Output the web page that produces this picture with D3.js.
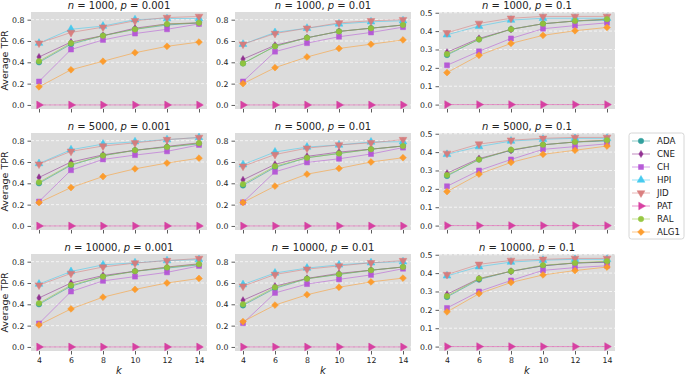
<!DOCTYPE html>
<html>
<head>
<meta charset="utf-8">
<script src="https://cdn.jsdelivr.net/npm/d3@7"></script>
<style>
  body { margin: 0; background: #fff; }
  text { font-family: "DejaVu Sans", sans-serif; fill: #222; }
</style>
</head>
<body>
<div id="vis"></div>
<script>
// data
const kValues = [4, 6, 8, 10, 12, 14];
const methods = ["ADA", "CNE", "CH", "HPI", "JID", "PAT", "RAL", "ALG1"];
const nValues = [1000, 5000, 10000];
const pValues = ["0.001", "0.01", "0.1"];

// TPR per panel (row = n, col = p), series in order of methods
const tpr_1000_0001 = [
  [0.40, 0.57, 0.65, 0.71, 0.75, 0.77],
  [0.45, 0.59, 0.65, 0.72, 0.76, 0.77],
  [0.22, 0.52, 0.61, 0.67, 0.71, 0.76],
  [0.58, 0.71, 0.74, 0.80, 0.81, 0.81],
  [0.58, 0.68, 0.73, 0.79, 0.82, 0.83],
  [0, 0, 0, 0, 0, 0],
  [0.41, 0.58, 0.65, 0.71, 0.76, 0.77],
  [0.17, 0.33, 0.41, 0.49, 0.55, 0.59]
];
const tpr_1000_001 = [
  [0.39, 0.55, 0.63, 0.69, 0.72, 0.75],
  [0.43, 0.56, 0.63, 0.69, 0.72, 0.75],
  [0.22, 0.50, 0.58, 0.64, 0.68, 0.73],
  [0.57, 0.68, 0.72, 0.76, 0.78, 0.79],
  [0.57, 0.67, 0.72, 0.77, 0.79, 0.80],
  [0, 0, 0, 0, 0, 0],
  [0.39, 0.55, 0.63, 0.69, 0.72, 0.75],
  [0.20, 0.35, 0.45, 0.53, 0.57, 0.61]
];
const tpr_1000_01 = [
  [0.27, 0.355, 0.41, 0.44, 0.455, 0.46],
  [0.285, 0.36, 0.41, 0.44, 0.455, 0.465],
  [0.214, 0.29, 0.36, 0.413, 0.43, 0.445],
  [0.38, 0.427, 0.46, 0.47, 0.47, 0.47],
  [0.391, 0.442, 0.47, 0.48, 0.48, 0.48],
  [0, 0, 0, 0, 0, 0],
  [0.275, 0.355, 0.41, 0.44, 0.455, 0.465],
  [0.174, 0.268, 0.333, 0.377, 0.402, 0.42]
];
const tpr_5000_0001 = [
  [0.40, 0.57, 0.66, 0.71, 0.74, 0.77],
  [0.455, 0.60, 0.667, 0.71, 0.746, 0.78],
  [0.229, 0.523, 0.624, 0.665, 0.70, 0.76],
  [0.586, 0.715, 0.768, 0.79, 0.81, 0.83],
  [0.58, 0.70, 0.75, 0.78, 0.81, 0.83],
  [0, 0, 0, 0, 0, 0],
  [0.41, 0.577, 0.66, 0.71, 0.74, 0.777],
  [0.219, 0.36, 0.464, 0.536, 0.59, 0.636]
];
const tpr_5000_001 = [
  [0.38, 0.55, 0.64, 0.68, 0.72, 0.75],
  [0.432, 0.578, 0.653, 0.693, 0.72, 0.75],
  [0.222, 0.508, 0.596, 0.63, 0.675, 0.735],
  [0.575, 0.694, 0.74, 0.76, 0.788, 0.79],
  [0.56, 0.67, 0.73, 0.76, 0.78, 0.81],
  [0, 0, 0, 0, 0, 0],
  [0.392, 0.56, 0.64, 0.68, 0.72, 0.75],
  [0.22, 0.374, 0.486, 0.54, 0.60, 0.64]
];
const tpr_5000_01 = [
  [0.27, 0.36, 0.41, 0.44, 0.455, 0.46],
  [0.285, 0.365, 0.41, 0.44, 0.455, 0.465],
  [0.214, 0.30, 0.36, 0.415, 0.43, 0.445],
  [0.388, 0.43, 0.46, 0.47, 0.475, 0.475],
  [0.393, 0.444, 0.465, 0.475, 0.48, 0.48],
  [0, 0, 0, 0, 0, 0],
  [0.275, 0.36, 0.413, 0.44, 0.455, 0.465],
  [0.185, 0.28, 0.344, 0.388, 0.41, 0.433]
];
const tpr_10000_0001 = [
  [0.40, 0.57, 0.66, 0.71, 0.74, 0.77],
  [0.46, 0.60, 0.67, 0.71, 0.75, 0.78],
  [0.22, 0.52, 0.62, 0.66, 0.70, 0.76],
  [0.59, 0.708, 0.77, 0.79, 0.81, 0.82],
  [0.58, 0.69, 0.75, 0.787, 0.81, 0.83],
  [0, 0, 0, 0, 0, 0],
  [0.41, 0.58, 0.66, 0.71, 0.746, 0.777],
  [0.207, 0.357, 0.467, 0.54, 0.60, 0.643]
];
const tpr_10000_001 = [
  [0.39, 0.55, 0.64, 0.68, 0.72, 0.75],
  [0.438, 0.57, 0.643, 0.69, 0.72, 0.75],
  [0.223, 0.507, 0.59, 0.634, 0.676, 0.734],
  [0.585, 0.694, 0.74, 0.77, 0.79, 0.80],
  [0.57, 0.68, 0.73, 0.76, 0.79, 0.81],
  [0, 0, 0, 0, 0, 0],
  [0.40, 0.56, 0.64, 0.683, 0.72, 0.75],
  [0.238, 0.393, 0.49, 0.56, 0.61, 0.646]
];
const tpr_10000_01 = [
  [0.27, 0.365, 0.41, 0.44, 0.455, 0.46],
  [0.285, 0.37, 0.41, 0.44, 0.455, 0.46],
  [0.21, 0.30, 0.36, 0.415, 0.43, 0.44],
  [0.385, 0.435, 0.46, 0.47, 0.475, 0.475],
  [0.392, 0.448, 0.469, 0.475, 0.48, 0.48],
  [0, 0, 0, 0, 0, 0],
  [0.275, 0.37, 0.41, 0.443, 0.455, 0.465],
  [0.189, 0.288, 0.349, 0.39, 0.414, 0.433]
];

const panels = [
  [tpr_1000_0001, tpr_1000_001, tpr_1000_01],
  [tpr_5000_0001, tpr_5000_001, tpr_5000_01],
  [tpr_10000_0001, tpr_10000_001, tpr_10000_01]
];

const colors = ["#2a9d9a", "#8e2a8e", "#b455d6", "#3fc9ef", "#d97b7b", "#d63a9f", "#93c63a", "#fd9a28"];
const shapes = ["circle", "thin", "square", "tri", "tridown", "triright", "circle", "diamond"];

// layout
const W = 685, H = 377;
const colLeft = [31, 235, 439];
const rowTop = [12, 133, 254];
const pw = 176, ph = 97;

const svg = d3.select("#vis").append("svg")
  .attr("width", W)
  .attr("height", H);

// matplotlib-like markers; diamonds are rotated squares
function marker(g, shape, color, x, y) {
  let sym, size = 26, rot = 0, sx = 1;
  if (shape === "circle") { sym = d3.symbolCircle; size = 24; }
  else if (shape === "square") { sym = d3.symbolSquare; size = 25; }
  else if (shape === "tri") { sym = d3.symbolTriangle; size = 26; }
  else if (shape === "tridown") { sym = d3.symbolTriangle; size = 26; rot = 180; }
  else if (shape === "triright") { sym = d3.symbolTriangle; size = 26; rot = 90; }
  else if (shape === "thin") { sym = d3.symbolSquare; size = 26; rot = 45; sx = 0.6; }
  else { sym = d3.symbolSquare; size = 23; rot = 45; }
  const tr = shape === "thin" || shape === "diamond"
    ? `translate(${x},${y}) scale(${sx},1) rotate(${rot})`
    : `translate(${x},${y}) rotate(${rot})`;
  g.append("path")
    .attr("d", d3.symbol().type(sym).size(size)())
    .attr("transform", tr)
    .attr("fill", color)
    .attr("stroke", color)
    .attr("stroke-width", 0.5)
    .attr("opacity", 0.95);
}

panels.forEach((row, ri) => {
  row.forEach((series, ci) => {
    const g = svg.append("g")
      .attr("transform", `translate(${colLeft[ci]}, ${rowTop[ri]})`);

    const x = d3.scaleLinear().domain([3.5, 14.5]).range([0, pw]);
    const isP01 = ci === 2;
    const y = d3.scaleLinear()
      .domain(isP01 ? [-0.024, 0.504] : [-0.038, 0.872])
      .range([ph, 0]);
    const yTicks = isP01 ? [0, 0.1, 0.2, 0.3, 0.4, 0.5] : [0, 0.2, 0.4, 0.6, 0.8];

    g.append("rect")
      .attr("width", pw)
      .attr("height", ph)
      .attr("fill", "#dcdcdc");

    // grid
    g.selectAll(".grid")
      .data(yTicks)
      .enter()
      .append("line")
      .attr("x1", 0)
      .attr("x2", pw)
      .attr("y1", d => y(d))
      .attr("y2", d => y(d))
      .attr("stroke", "#fff")
      .attr("stroke-width", 0.7)
      .attr("stroke-dasharray", "3,2");

    // axes
    const yAxis = g.append("g")
      .call(d3.axisLeft(y).tickValues(yTicks).tickFormat(d3.format(".1f")).tickSize(3.5).tickPadding(3));
    yAxis.select(".domain").remove();
    yAxis.selectAll("line").attr("stroke", "#333").attr("stroke-width", 0.8);
    yAxis.selectAll("text").attr("font-size", "7.8px").attr("font-family", "DejaVu Sans").attr("fill", "#222");

    const xAxis = g.append("g")
      .attr("transform", `translate(0, ${ph})`)
      .call(d3.axisBottom(x).tickValues(kValues).tickSize(3.5).tickPadding(3)
        .tickFormat(ri === 2 ? d3.format("d") : ""));
    xAxis.select(".domain").remove();
    xAxis.selectAll("line").attr("stroke", "#333").attr("stroke-width", 0.8);
    xAxis.selectAll("text").attr("font-size", "7.8px").attr("font-family", "DejaVu Sans").attr("fill", "#222");

    // lines + markers
    const line = d3.line()
      .x((d, i) => x(kValues[i]))
      .y(d => y(d));

    series.forEach((vals, si) => {
      g.append("path")
        .datum(vals)
        .attr("d", line)
        .attr("fill", "none")
        .attr("stroke", colors[si])
        .attr("stroke-width", 0.9)
        .attr("opacity", 0.6);
      vals.forEach((v, i) => marker(g, shapes[si], colors[si], x(kValues[i]), y(v)));
    });

    // title
    const t = svg.append("text")
      .attr("x", colLeft[ci] + pw / 2)
      .attr("y", rowTop[ri] - 3)
      .attr("text-anchor", "middle")
      .attr("font-size", "10px");
    t.append("tspan").attr("font-style", "italic").text("n");
    t.append("tspan").text(` = ${nValues[ri]}, `);
    t.append("tspan").attr("font-style", "italic").text("p");
    t.append("tspan").text(` = ${pValues[ci]}`);

    if (ci === 0) {
      svg.append("text")
        .attr("transform", "rotate(-90)")
        .attr("x", -(rowTop[ri] + ph / 2))
        .attr("y", 8)
        .attr("text-anchor", "middle")
        .attr("font-size", "9.5px")
        .text("Average TPR");
    }
    if (ri === 2) {
      svg.append("text")
        .attr("x", colLeft[ci] + pw / 2)
        .attr("y", 374)
        .attr("text-anchor", "middle")
        .attr("font-size", "10px")
        .attr("font-style", "italic")
        .text("k");
    }
  });
});

// legend
const legend = svg.append("g").attr("transform", "translate(629, 133)");
legend.append("rect")
  .attr("width", 55)
  .attr("height", 106)
  .attr("rx", 2.5)
  .attr("fill", "#fff")
  .attr("stroke", "#ccc")
  .attr("stroke-width", 0.8);

methods.forEach((m, i) => {
  const yy = 8 + i * 13;
  legend.append("line")
    .attr("x1", 3)
    .attr("x2", 21)
    .attr("y1", yy)
    .attr("y2", yy)
    .attr("stroke", colors[i])
    .attr("stroke-width", 0.9)
    .attr("opacity", 0.6);
  marker(legend, shapes[i], colors[i], 12, yy);
  legend.append("text")
    .attr("x", 28)
    .attr("y", yy + 3.2)
    .attr("font-size", "8.7px")
    .text(m);
});
</script>
</body>
</html>
